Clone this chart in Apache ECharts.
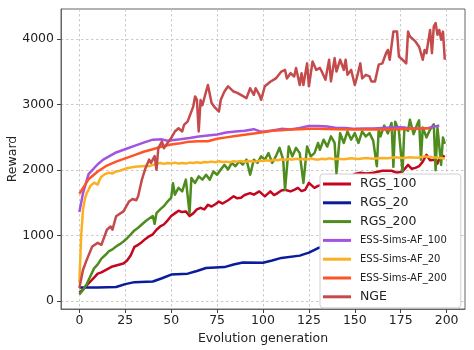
<!DOCTYPE html>
<html>
<head>
<meta charset="utf-8">
<script src="https://cdn.jsdelivr.net/npm/echarts@6/dist/echarts.min.js"></script>
<style>
  html, body { margin: 0; padding: 0; background: #fff; }
  #chart { width: 474px; height: 350px; }
</style>
</head>
<body>
<div id="chart"></div>
<script>
// Tick positions
const xTicks = [0, 25, 50, 75, 100, 125, 150, 175, 200];
const yTicks = [0, 1000, 2000, 3000, 4000];

// Series names (legend order)
const names = ['RGS_100', 'RGS_20', 'RGS_200', 'ESS-Sims-AF_100', 'ESS-Sims-AF_20', 'ESS-Sims-AF_200', 'NGE'];

// Reward per evolution generation, as [generation, reward]
const rgs100 = [[0,130],[2,180],[4,240],[6,300],[8,360],[10,420],[12,440],[14,470],[16,500],[18,530],[20,545],[22,560],[24,575],[26,620],[28,700],[30,830],[32,860],[34,900],[36,950],[38,990],[40,1020],[42,1090],[44,1140],[46,1170],[48,1230],[50,1300],[52,1340],[54,1380],[56,1360],[58,1370],[60,1300],[62,1340],[64,1400],[66,1425],[68,1400],[70,1470],[72,1445],[74,1480],[76,1520],[78,1490],[79,1470],[81,1540],[84,1600],[86,1570],[88,1580],[90,1620],[93,1650],[95,1625],[98,1675],[101,1600],[104,1675],[106,1620],[108,1650],[110,1690],[112,1700],[115,1675],[117,1700],[119,1730],[121,1680],[123,1700],[125,1805],[128,1730],[130,1760],[135,1800],[140,1830],[145,1870],[150,1940],[153,1960],[156,1950],[160,1960],[165,1990],[170,1990],[173,1960],[176,1980],[179,2080],[181,2020],[183,2035],[185,2060],[187,2130],[189,2235],[191,2150],[192,2130],[194,2160],[195,2100],[197,2235],[199,2200]];

const rgs20 = [[0,210],[10,210],[20,215],[25,260],[30,290],[40,300],[45,350],[50,405],[59,420],[64,460],[69,505],[79,520],[84,560],[89,590],[100,585],[105,620],[110,660],[120,695],[125,740],[130,810],[140,870],[150,930],[160,980],[170,1030],[180,1080],[190,1120],[199,1170]];

const rgs200 = [[0,100],[2,170],[4,260],[6,380],[8,500],[10,560],[12,650],[14,700],[16,760],[18,790],[20,835],[22,870],[24,910],[26,960],[28,1020],[30,1080],[32,1120],[34,1170],[36,1220],[38,1260],[40,1300],[41,1180],[42,1345],[44,1400],[46,1450],[48,1520],[50,1580],[51,1800],[52,1625],[54,1730],[56,1675],[58,1855],[60,1345],[61,1880],[63,1805],[65,1905],[67,1855],[69,1930],[71,1855],[73,1980],[75,1930],[77,2010],[79,2080],[81,2010],[83,2110],[85,2060],[87,2135],[89,2085],[91,2160],[93,1930],[95,2160],[97,2110],[99,2210],[101,2160],[103,2260],[105,2110],[107,2210],[109,2340],[111,2160],[112,1700],[114,2360],[116,2210],[118,2340],[120,2260],[122,1805],[124,2360],[126,2210],[128,2260],[130,2415],[131,2310],[133,2465],[135,2360],[137,2515],[139,2415],[140,1955],[142,2565],[144,2415],[146,2590],[148,2465],[150,2565],[152,2415],[154,2590],[156,2515],[158,2565],[160,2450],[162,2060],[163,2620],[164,2515],[166,2680],[168,2560],[170,2720],[171,2050],[172,2740],[174,2600],[176,1980],[177,2650],[179,2600],[180,2770],[182,2550],[184,2700],[185,2760],[186,2160],[187,2650],[189,2500],[191,2620],[193,2700],[194,2000],[195,2650],[196,2680],[197,2080],[198,2500],[199,2400]];

const ess100 = [[0,1360],[2,1650],[5,1940],[10,2090],[13,2160],[20,2270],[26,2330],[30,2370],[35,2420],[40,2465],[45,2470],[48,2450],[55,2470],[60,2490],[65,2515],[70,2530],[75,2545],[80,2575],[85,2590],[90,2600],[95,2625],[98,2595],[100,2585],[105,2605],[110,2630],[115,2620],[120,2645],[125,2675],[130,2675],[135,2665],[140,2645],[145,2645],[150,2630],[155,2635],[160,2635],[165,2645],[170,2650],[175,2655],[180,2640],[185,2630],[190,2645],[196,2680]];

const ess20 = [[0,280],[1,1000],[2,1400],[3,1560],[4,1650],[5,1700],[6,1760],[7,1790],[8,1810],[9,1840],[10,1780],[11,1850],[12,1900],[13,1930],[14,1940],[15,1950],[16,1960],[17,1970],[18,1950],[19,1975],[20,1980],[22,1990],[24,2010],[26,2030],[28,2040],[30,2050],[32,2055],[34,2060],[36,2065],[38,2060],[40,2080],[42,2090],[44,2110],[46,2095],[48,2110],[50,2100],[52,2115],[54,2100],[56,2110],[58,2100],[60,2115],[62,2110],[64,2120],[66,2110],[68,2125],[70,2120],[72,2130],[74,2120],[76,2135],[78,2125],[80,2130],[82,2120],[84,2135],[86,2130],[88,2140],[90,2125],[92,2140],[94,2135],[96,2130],[98,2145],[100,2140],[102,2150],[104,2140],[106,2160],[108,2150],[110,2165],[112,2155],[114,2170],[116,2160],[118,2175],[120,2165],[122,2170],[124,2160],[126,2180],[128,2165],[130,2160],[132,2175],[134,2165],[136,2180],[138,2170],[140,2175],[144,2165],[148,2180],[152,2170],[156,2185],[160,2175],[164,2185],[168,2180],[172,2195],[176,2185],[180,2195],[184,2190],[188,2210],[192,2195],[196,2190],[199,2175]];

const ess200 = [[0,1640],[5,1860],[10,1980],[15,2070],[20,2130],[25,2180],[30,2230],[35,2280],[40,2320],[45,2360],[50,2390],[55,2410],[60,2435],[65,2440],[70,2440],[75,2480],[80,2500],[85,2520],[90,2540],[95,2560],[100,2580],[105,2600],[110,2610],[115,2620],[120,2625],[125,2630],[130,2630],[140,2625],[150,2620],[160,2620],[170,2620],[180,2630],[191,2640]];

const nge = [[0,200],[2,480],[4,630],[7,835],[10,890],[12,860],[15,1090],[17,1140],[18,1090],[20,1295],[24,1370],[27,1520],[29,1560],[31,1540],[32,1600],[34,1850],[36,2030],[38,2160],[39,2110],[41,2215],[42,2005],[43,2335],[45,2440],[46,2335],[48,2415],[50,2490],[52,2590],[54,2640],[56,2590],[57,2690],[59,2745],[60,2820],[62,2970],[63,3125],[64,3075],[65,2590],[66,3070],[67,2990],[69,3200],[70,3300],[72,3025],[74,2950],[76,2895],[77,3075],[79,3200],[81,3280],[84,3200],[86,3180],[87,3150],[91,3100],[93,3250],[95,3150],[96,3250],[98,3150],[99,3075],[101,3280],[104,3350],[107,3400],[110,3505],[112,3530],[113,3400],[115,3480],[117,3430],[118,3560],[120,3300],[121,3480],[122,3300],[124,3630],[125,3280],[127,3660],[129,3530],[131,3560],[132,3505],[134,3380],[136,3685],[137,3355],[139,3710],[140,3505],[142,3685],[144,3530],[145,3685],[146,3455],[148,3530],[150,3300],[151,3400],[153,3630],[154,3400],[156,3455],[158,3430],[159,3355],[160,3380],[161,3355],[163,3610],[165,3630],[167,3785],[168,3835],[169,3685],[171,4115],[173,4115],[174,3735],[176,3685],[178,3630],[179,4115],[180,4040],[181,4065],[183,3965],[184,3980],[185,3885],[187,3685],[188,3835],[189,3785],[190,3965],[191,4140],[192,3785],[193,4190],[194,4245],[195,4065],[196,4140],[197,3990],[198,4115],[199,3685]];

const colors = ['#c4061f', '#0a1c9c', '#4e8c1e', '#a253e0', '#fbb024', '#ff5526', '#c44a4c'];
const values = [rgs100, rgs20, rgs200, ess100, ess20, ess200, nge];

const FONT = 'DejaVu Sans';
const chart = echarts.init(document.getElementById('chart'), null, { renderer: 'canvas' });

const gridLine = { show: true, lineStyle: { color: '#bdbdbd', width: 0.8, type: [2.5, 2.5] } };
const plain = v => String(v);

chart.setOption({
  animation: false,
  backgroundColor: '#fff',
  grid: {
    left: 61, right: 9, top: 9, bottom: 41,
    outerBoundsMode: 'none', containLabel: false,
    show: true, borderColor: '#666', borderWidth: 1
  },
  xAxis: {
    type: 'value', min: -10, max: 210,
    name: 'Evolution generation', nameLocation: 'middle', nameGap: 23, nameMoveOverlap: false,
    nameTextStyle: { fontFamily: FONT, fontSize: 12.5, color: '#222' },
    axisLine: { onZero: false, lineStyle: { color: '#666', width: 1 } },
    axisTick: { show: true, customValues: xTicks, length: 4, lineStyle: { color: '#444' } },
    axisLabel: { customValues: xTicks, formatter: plain, margin: 5, fontFamily: FONT, fontSize: 12.5, color: '#222' },
    splitLine: gridLine
  },
  yAxis: {
    type: 'value', min: -120, max: 4460,
    name: 'Reward', nameLocation: 'middle', nameGap: 42, nameMoveOverlap: false,
    nameTextStyle: { fontFamily: FONT, fontSize: 12.5, color: '#222' },
    axisLine: { onZero: false, lineStyle: { color: '#666', width: 1 } },
    axisTick: { show: true, customValues: yTicks, length: 4, lineStyle: { color: '#444' } },
    axisLabel: { customValues: yTicks, formatter: plain, margin: 7, fontFamily: FONT, fontSize: 12.5, color: '#222' },
    splitLine: gridLine
  },
  legend: {
    orient: 'vertical', left: 320, top: 174,
    icon: 'rect', itemWidth: 28, itemHeight: 3, itemGap: 4.8,
    padding: [3, 14, 4, 3],
    backgroundColor: '#fff', borderColor: '#d0d0d0', borderWidth: 1, borderRadius: 3,
    textStyle: { fontFamily: FONT, color: '#222', lineHeight: 14, padding: [0, 0, 0, 4] },
    data: names.map(n => ({
      name: n,
      textStyle: { fontSize: n.startsWith('ESS') ? 10 : 12.5, lineHeight: 14 }
    }))
  },
  series: names.map((n, i) => ({
    name: n, type: 'line', data: values[i],
    showSymbol: false, symbol: 'none',
    color: colors[i],
    lineStyle: { width: 2.5, color: colors[i], join: 'round' },
    z: 2 + i
  }))
});
</script>
</body>
</html>
